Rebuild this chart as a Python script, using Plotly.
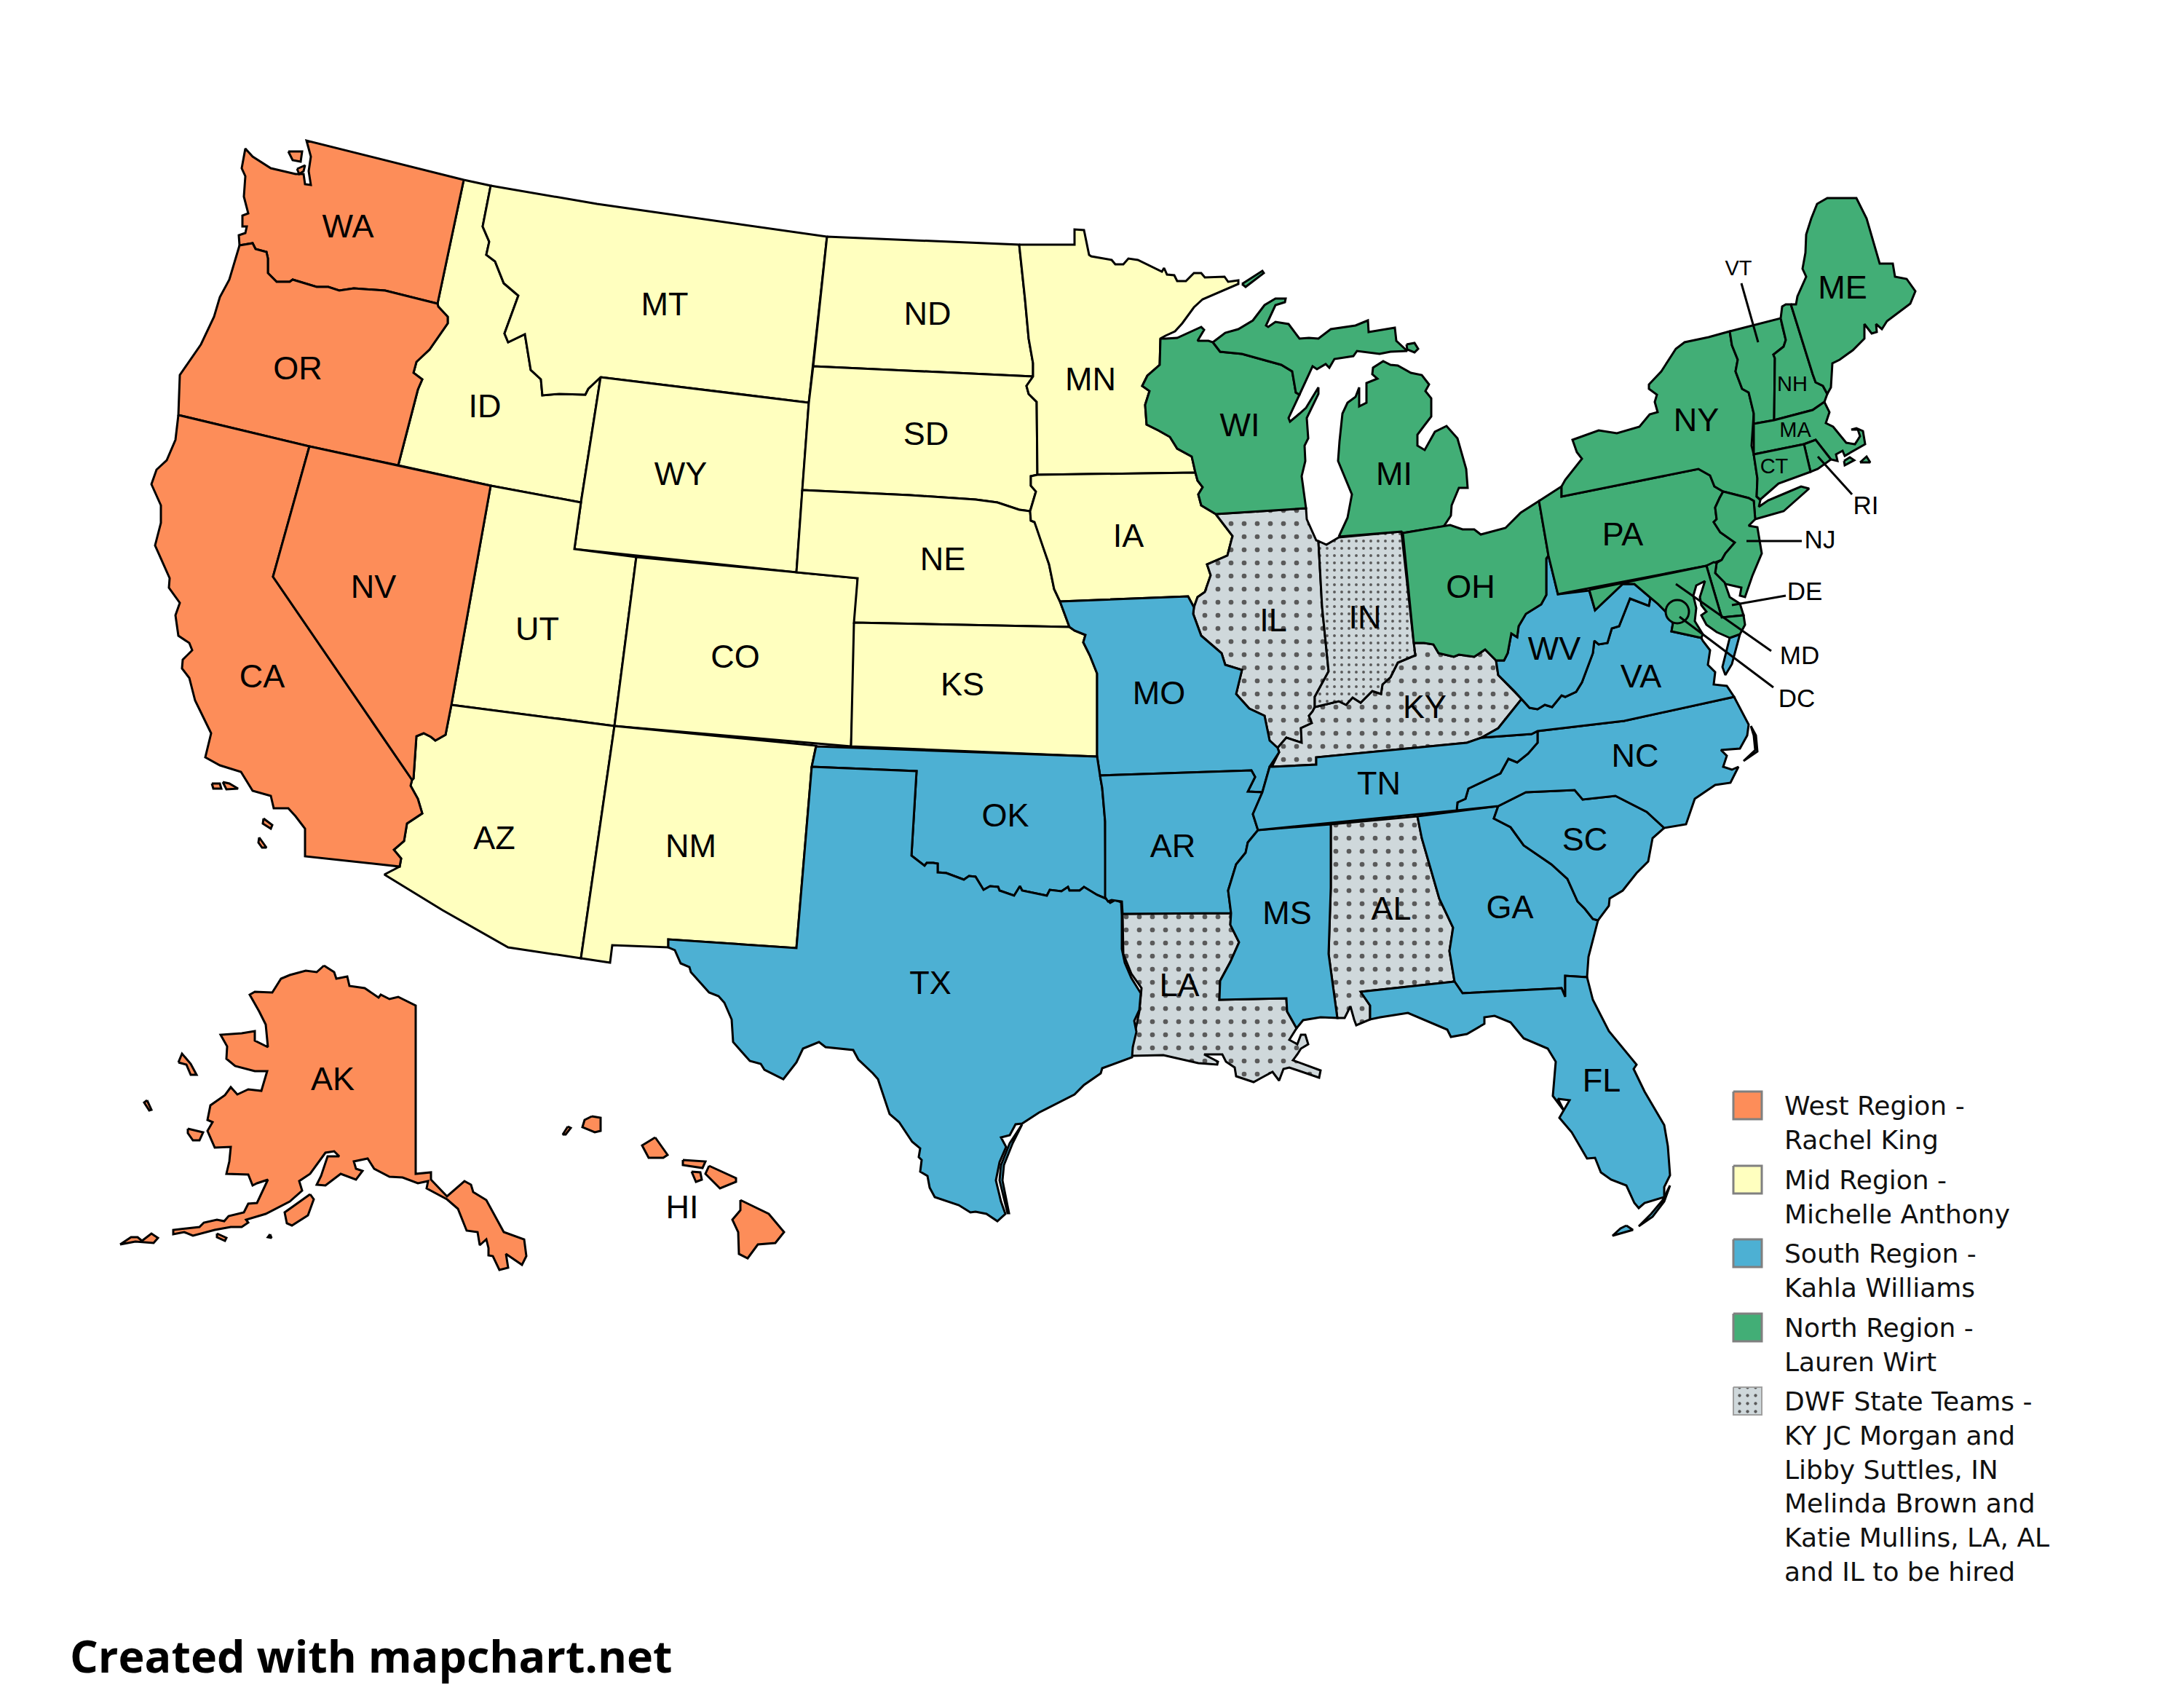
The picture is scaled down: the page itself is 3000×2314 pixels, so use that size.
import plotly.graph_objects as go

# state outlines, in picture pixels
WA = [(637,247),(421,193),(427,215),(424,235),(427,254),(419,253),(417,239),(406,239),(372,231),(347,215),(337,204),(332,231),(337,242),(335,270),(341,293),(333,296),(333,311),(339,311),(337,320),(328,323),(329,337),(347,334),(351,342),(366,346),(368,355),(368,375),(380,387),(398,387),(402,384),(435,394),(451,394),(466,399),(486,396),(529,399),(601,417)]
WA_ISLE1 = [(396,208),(415,208),(413,222),(402,220)]
WA_ISLE2 = [(408,232),(419,227),(417,235),(411,239)]
OR = [(329,337),(315,384),(302,408),(294,435),(276,473),(247,515),(245,570),(425,613),(547,639),(574,535),(580,521),(568,512),(572,497),(590,480),(615,444),(615,435),(602,421),(601,417),(529,399),(486,396),(466,399),(451,394),(435,394),(402,384),(398,387),(380,387),(368,375),(368,355),(366,346),(351,342),(347,334)]
CA = [(245,570),(425,613),(375,792),(566,1071),(564,1079),(574,1097),(580,1117),(559,1131),(555,1155),(541,1167),(551,1179),(549,1190),(419,1176),(419,1138),(406,1121),(396,1110),(376,1110),(372,1093),(347,1086),(331,1060),(302,1051),(282,1040),(290,1007),(268,962),(260,931),(250,918),(251,906),(264,893),(260,883),(245,873),(241,845),(247,828),(232,807),(233,794),(213,749),(221,718),(221,694),(208,665),(215,645),(229,632),(241,604)]
CA_ISLE1 = [(291,1076),(302,1076),(304,1083),(293,1083)]
CA_ISLE2 = [(306,1074),(315,1076),(327,1083),(311,1084)]
CA_ISLE3 = [(362,1124),(374,1133),(372,1138),(361,1131)]
CA_ISLE4 = [(356,1150),(366,1164),(360,1164),(355,1157)]
NV = [(425,613),(674,667),(620,968),(612,1009),(598,1017),(592,1012),(582,1007),(572,1011),(568,1069),(566,1071),(375,792)]
AK = [(445,1326),(459,1335),(462,1344),(477,1341),(480,1354),(501,1357),(520,1370),(523,1366),(535,1372),(547,1369),(571,1381),(571,1612),(592,1610),(592,1620),(614,1643),(629,1630),(638,1622),(647,1627),(650,1637),(668,1648),(692,1692),(720,1702),(723,1725),(717,1737),(695,1722),(698,1741),(686,1744),(677,1725),(671,1724),(671,1714),(668,1702),(659,1710),(656,1692),(641,1690),(629,1660),(614,1647),(586,1632),(588,1622),(574,1625),(553,1617),(535,1616),(514,1605),(505,1591),(486,1595),(489,1605),(498,1608),(489,1620),(468,1612),(447,1628),(435,1627),(441,1615),(450,1588),(466,1588),(459,1581),(447,1583),(426,1612),(411,1622),(415,1635),(398,1650),(365,1667),(338,1675),(341,1679),(332,1685),(317,1685),(295,1689),(265,1697),(253,1692),(238,1695),(238,1689),(274,1685),(280,1679),(298,1675),(308,1677),(314,1670),(335,1665),(341,1653),(353,1652),(368,1620),(353,1625),(347,1628),(341,1613),(311,1612),(315,1595),(317,1575),(295,1576),(285,1553),(292,1541),(285,1538),(289,1518),(309,1504),(317,1493),(326,1503),(341,1496),(359,1498),(367,1471),(350,1471),(323,1464),(311,1454),(312,1437),(303,1421),(332,1419),(350,1416),(350,1429),(368,1438),(365,1407),(356,1389),(343,1366),(350,1362),(374,1363),(386,1344),(398,1339),(420,1333),(435,1335)]
AK_ISLE1 = [(245,1459),(250,1447),(262,1461),(270,1476),(262,1476),(256,1462)]
AK_ISLE2 = [(202,1511),(208,1524),(205,1525),(198,1514)]
AK_ISLE3 = [(258,1550),(279,1555),(274,1566),(265,1566),(258,1556)]
AK_ISLE4 = [(426,1640),(431,1647),(423,1669),(401,1683),(394,1680),(391,1665)]
AK_ISLE5 = [(165,1709),(180,1699),(189,1699),(195,1704),(208,1694),(217,1700),(211,1707),(186,1705)]
AK_ISLE6 = [(298,1694),(311,1700),(309,1704),(298,1699)]
AK_ISLE7 = [(371,1695),(373,1700),(368,1699)]
HI_1 = [(813,1533),(825,1535),(825,1553),(817,1555),(800,1548),(803,1538)]
HI_2 = [(780,1547),(784,1549),(777,1558),(773,1558)]
HI_3 = [(900,1562),(917,1586),(911,1590),(891,1590),(882,1573)]
HI_4 = [(938,1593),(969,1595),(965,1604),(938,1600)]
HI_5 = [(950,1609),(962,1610),(964,1620),(956,1623)]
HI_6 = [(974,1601),(1011,1618),(1011,1623),(989,1632),(969,1612)]
HI_7 = [(1017,1648),(1056,1667),(1077,1692),(1065,1707),(1041,1709),(1027,1728),(1015,1722),(1014,1692),(1006,1675),(1017,1662)]

ID = [(637,247),(674,255),(663,311),(672,332),(668,350),(680,359),(692,389),(712,406),(693,458),(698,470),(721,459),(729,508),(743,521),(745,543),(768,541),(804,542),(808,534),(825,518),(798,690),(674,667),(547,639),(574,535),(580,521),(568,512),(572,497),(590,480),(615,444),(615,435),(602,421),(601,417)]
MT = [(674,255),(820,280),(1136,325),(1117,503),(1111,553),(825,518),(808,534),(804,542),(768,541),(745,543),(743,521),(729,508),(721,459),(698,470),(693,458),(712,406),(692,389),(680,359),(668,350),(672,332),(663,311)]
WY = [(825,518),(1111,553),(1094,786),(789,754),(798,690)]
UT = [(674,667),(798,690),(789,754),(874,765),(844,997),(620,968)]
AZ = [(620,968),(844,997),(798,1316),(698,1301),(608,1250),(528,1201),(549,1190),(551,1179),(541,1167),(555,1155),(559,1131),(580,1117),(574,1097),(564,1079),(566,1071),(568,1069),(572,1011),(582,1007),(592,1012),(598,1017),(612,1009)]
CO = [(874,765),(1178,794),(1169,1025),(844,997)]
NM = [(844,997),(1121,1024),(1115,1053),(1094,1302),(918,1290),(918,1301),(841,1298),(838,1322),(798,1316)]
ND = [(1136,325),(1400,336),(1408,411),(1413,465),(1419,499),(1419,517),(1117,503)]
SD = [(1117,503),(1419,517),(1410,530),(1413,541),(1424,552),(1425,652),(1416,654),(1416,667),(1423,675),(1415,702),(1400,700),(1370,690),(1340,686),(1250,680),(1102,673),(1111,553)]
NE = [(1102,673),(1250,680),(1340,686),(1370,690),(1400,700),(1415,702),(1416,715),(1421,717),(1423,721),(1433,752),(1441,775),(1448,809),(1456,826),(1469,861),(1173,855),(1178,794),(1094,786)]
KS = [(1173,855),(1469,861),(1476,866),(1491,872),(1488,882),(1497,900),(1507,925),(1507,1039),(1169,1025)]
MN = [(1400,336),(1476,336),(1476,315),(1489,316),(1496,350),(1499,352),(1527,357),(1532,363),(1543,363),(1550,355),(1563,357),(1596,373),(1599,368),(1603,377),(1613,378),(1617,386),(1629,386),(1640,375),(1650,375),(1655,381),(1682,380),(1687,387),(1701,385),(1701,390),(1652,411),(1640,422),(1624,444),(1614,455),(1601,461),(1594,465),(1593,501),(1576,516),(1569,530),(1579,537),(1573,556),(1575,583),(1591,591),(1607,600),(1617,616),(1637,627),(1642,649),(1425,652),(1424,552),(1413,541),(1410,530),(1419,517),(1419,499),(1413,465),(1408,411)]
IA = [(1425,652),(1642,649),(1645,660),(1652,669),(1646,679),(1650,694),(1670,706),(1693,736),(1686,763),(1658,775),(1663,790),(1655,813),(1645,820),(1640,834),(1632,819),(1456,826),(1448,809),(1441,775),(1433,752),(1423,721),(1421,717),(1416,715),(1415,702),(1423,675),(1416,667),(1416,654)]

MO = [(1456,826),(1632,819),(1640,834),(1639,843),(1650,873),(1678,897),(1683,913),(1706,920),(1698,953),(1716,973),(1737,983),(1744,1017),(1755,1027),(1757,1033),(1744,1053),(1734,1088),(1714,1087),(1724,1067),(1719,1058),(1511,1065),(1507,1039),(1507,925),(1497,900),(1488,882),(1491,872),(1476,866),(1469,861)]
OK = [(1121,1025),(1507,1039),(1511,1065),(1514,1082),(1518,1128),(1519,1234),(1507,1229),(1489,1218),(1483,1223),(1469,1223),(1467,1218),(1458,1224),(1442,1222),(1438,1230),(1404,1223),(1401,1217),(1393,1230),(1373,1223),(1371,1218),(1360,1217),(1351,1222),(1340,1204),(1331,1203),(1324,1208),(1300,1199),(1288,1198),(1288,1186),(1282,1185),(1273,1185),(1270,1189),(1252,1175),(1259,1059),(1115,1053)]
TX = [(1115,1053),(1259,1059),(1252,1175),(1270,1189),(1273,1185),(1282,1185),(1288,1186),(1288,1198),(1300,1199),(1324,1208),(1331,1203),(1340,1204),(1351,1222),(1360,1217),(1371,1218),(1373,1223),(1393,1230),(1401,1217),(1404,1223),(1438,1230),(1442,1222),(1458,1224),(1467,1218),(1469,1223),(1483,1223),(1489,1218),(1507,1229),(1519,1234),(1525,1240),(1532,1236),(1540,1239),(1541,1257),(1541,1303),(1545,1322),(1554,1343),(1567,1364),(1565,1387),(1558,1402),(1561,1417),(1556,1438),(1555,1452),(1514,1467),(1512,1474),(1489,1490),(1476,1503),(1427,1528),(1404,1543),(1395,1544),(1387,1559),(1375,1562),(1382,1575),(1373,1596),(1368,1621),(1375,1650),(1381,1667),(1370,1677),(1355,1667),(1340,1664),(1333,1665),(1317,1655),(1284,1644),(1277,1631),(1274,1615),(1264,1609),(1266,1593),(1262,1589),(1264,1577),(1253,1568),(1235,1541),(1222,1530),(1206,1482),(1199,1474),(1179,1455),(1172,1442),(1134,1438),(1125,1431),(1103,1440),(1094,1459),(1076,1482),(1050,1469),(1045,1461),(1030,1457),(1007,1431),(1005,1400),(995,1377),(987,1368),(974,1363),(949,1335),(947,1328),(935,1323),(927,1305),(918,1301),(918,1290),(1094,1302)]
TX_ISLE = [(1404,1544),(1387,1570),(1375,1600),(1373,1621),(1384,1666),(1386,1666),(1377,1621),(1379,1600),(1391,1570)]
AR = [(1511,1065),(1719,1058),(1724,1067),(1714,1087),(1734,1088),(1721,1118),(1728,1140),(1714,1157),(1711,1171),(1698,1187),(1687,1223),(1691,1254),(1542,1255),(1541,1238),(1527,1236),(1522,1238),(1518,1232),(1518,1128),(1514,1082)]
LA = [(1542,1255),(1691,1254),(1690,1270),(1702,1294),(1690,1321),(1676,1347),(1675,1373),(1767,1371),(1768,1389),(1781,1412),(1771,1428),(1782,1434),(1787,1421),(1793,1421),(1797,1434),(1787,1440),(1782,1448),(1776,1456),(1814,1470),(1812,1480),(1771,1466),(1763,1468),(1757,1484),(1748,1472),(1733,1480),(1722,1486),(1698,1478),(1696,1466),(1684,1458),(1679,1448),(1654,1448),(1673,1458),(1672,1462),(1646,1460),(1598,1449),(1554,1450),(1557,1428),(1565,1389),(1568,1357),(1554,1337),(1543,1310)]
MS = [(1728,1140),(1828,1132),(1828,1219),(1825,1310),(1837,1398),(1814,1397),(1790,1401),(1781,1412),(1768,1389),(1767,1371),(1675,1373),(1676,1347),(1690,1321),(1702,1294),(1690,1270),(1691,1254),(1687,1223),(1698,1187),(1711,1171),(1714,1157)]
AL = [(1828,1132),(1947,1121),(1953,1151),(1977,1234),(1996,1274),(1991,1306),(1998,1348),(1869,1362),(1882,1381),(1882,1400),(1863,1408),(1860,1400),(1855,1382),(1847,1398),(1837,1398),(1825,1310),(1828,1219)]
GA = [(1947,1121),(2058,1107),(2052,1124),(2075,1136),(2093,1161),(2131,1187),(2153,1207),(2167,1238),(2177,1248),(2188,1262),(2195,1264),(2182,1314),(2180,1342),(2150,1340),(2150,1369),(2145,1357),(2009,1364),(1998,1348),(1991,1306),(1996,1274),(1977,1234),(1953,1151)]
FL = [(1869,1362),(1998,1348),(2009,1364),(2145,1357),(2150,1369),(2150,1340),(2180,1342),(2188,1373),(2210,1416),(2248,1462),(2244,1468),(2259,1499),(2286,1545),(2291,1574),(2294,1614),(2286,1630),(2286,1644),(2259,1652),(2251,1659),(2245,1652),(2234,1628),(2213,1620),(2199,1610),(2191,1590),(2180,1591),(2159,1555),(2142,1535),(2156,1511),(2140,1509),(2148,1525),(2133,1505),(2137,1458),(2126,1440),(2093,1426),(2075,1404),(2053,1395),(2039,1397),(2039,1406),(2015,1420),(1993,1424),(1988,1414),(1934,1391),(1896,1397),(1882,1400),(1882,1381)]
FL_KEYS1 = [(2294,1628),(2286,1650),(2270,1671),(2251,1684),(2268,1667),(2284,1648)]
FL_KEYS2 = [(2234,1683),(2243,1689),(2215,1697),(2226,1687)]
SC = [(2058,1107),(2096,1088),(2163,1085),(2174,1098),(2219,1093),(2262,1115),(2286,1137),(2270,1151),(2264,1183),(2248,1199),(2229,1223),(2211,1234),(2210,1244),(2195,1264),(2188,1262),(2177,1248),(2167,1238),(2153,1207),(2131,1187),(2093,1161),(2075,1136),(2052,1124)]
NC = [(2001,1113),(2002,1102),(2013,1097),(2017,1083),(2061,1062),(2072,1042),(2084,1047),(2099,1035),(2112,1020),(2112,1004),(2231,990),(2382,957),(2402,995),(2400,1010),(2390,1028),(2364,1030),(2372,1038),(2367,1053),(2379,1057),(2388,1053),(2377,1075),(2356,1078),(2328,1097),(2316,1132),(2286,1137),(2262,1115),(2219,1093),(2174,1098),(2163,1085),(2096,1088),(2058,1107)]
NC_BANKS = [(2405,997),(2412,1010),(2414,1032),(2395,1045),(2411,1030),(2409,1010)]
TN = [(1747,1053),(1808,1050),(1808,1040),(2015,1020),(2035,1013),(2104,1008),(2112,1004),(2112,1020),(2099,1035),(2084,1047),(2072,1042),(2061,1062),(2017,1083),(2013,1097),(2002,1102),(2001,1113),(1728,1140),(1721,1118),(1734,1088),(1744,1053)]
KY = [(1806,971),(1839,963),(1849,968),(1858,958),(1869,965),(1885,949),(1897,953),(1899,940),(1910,930),(1920,910),(1944,900),(1942,883),(1956,883),(1969,885),(1976,897),(1997,902),(2004,899),(2025,902),(2040,892),(2055,907),(2058,927),(2081,950),(2090,960),(2058,1000),(2035,1013),(2015,1020),(1808,1040),(1808,1050),(1747,1053),(1757,1033),(1755,1027),(1767,1013),(1788,1020),(1787,1000),(1802,993),(1798,983),(1803,977)]
IL = [(1670,706),(1794,698),(1795,713),(1808,742),(1811,743),(1816,833),(1825,922),(1806,957),(1806,971),(1803,977),(1798,983),(1802,993),(1787,1000),(1788,1020),(1767,1013),(1755,1027),(1744,1017),(1737,983),(1716,973),(1698,953),(1706,920),(1683,913),(1678,897),(1650,873),(1639,843),(1640,834),(1645,820),(1655,813),(1663,790),(1658,775),(1686,763),(1693,736)]
IN = [(1811,743),(1822,748),(1839,738),(1925,730),(1942,883),(1944,900),(1920,910),(1910,930),(1899,940),(1897,953),(1885,949),(1869,965),(1858,958),(1849,968),(1839,963),(1806,971),(1806,957),(1825,922),(1816,833)]
VA = [(2265,832),(2267,820),(2277,829),(2288,840),(2298,856),(2296,867),(2337,876),(2339,880),(2349,893),(2346,913),(2356,923),(2354,940),(2372,942),(2382,957),(2231,990),(2112,1004),(2104,1008),(2035,1013),(2058,1000),(2090,960),(2101,972),(2112,974),(2122,968),(2132,971),(2145,955),(2150,957),(2165,950),(2173,937),(2188,897),(2190,880),(2196,885),(2208,883),(2214,863),(2224,860),(2239,822)]
VA_SHORE = [(2390,871),(2376,876),(2366,916),(2370,927),(2379,912)]
WV = [(2055,907),(2058,927),(2081,950),(2090,960),(2101,972),(2112,974),(2122,968),(2132,971),(2145,955),(2150,957),(2165,950),(2173,937),(2188,897),(2190,880),(2196,885),(2208,883),(2214,863),(2224,860),(2239,822),(2265,832),(2267,820),(2245,802),(2229,802),(2210,820),(2191,838),(2183,811),(2140,816),(2127,763),(2124,767),(2124,817),(2117,830),(2096,843),(2086,860),(2084,875),(2076,870),(2071,897),(2066,907)]

WI = [(1594,465),(1601,465),(1617,464),(1650,449),(1654,453),(1645,468),(1660,468),(1666,470),(1676,483),(1706,486),(1760,501),(1775,510),(1780,539),(1785,542),(1770,574),(1772,579),(1785,568),(1794,560),(1811,532),(1811,541),(1795,574),(1797,602),(1792,612),(1793,633),(1788,654),(1794,698),(1670,706),(1650,694),(1646,679),(1652,669),(1645,660),(1642,649),(1637,627),(1617,616),(1607,600),(1591,591),(1575,583),(1573,556),(1579,537),(1569,530),(1576,516),(1593,501)]
MI_UPPER = [(1666,470),(1683,457),(1701,452),(1721,440),(1737,419),(1752,410),(1766,410),(1765,415),(1752,419),(1739,447),(1742,449),(1752,442),(1770,445),(1785,465),(1798,464),(1811,465),(1828,452),(1862,447),(1879,440),(1880,456),(1916,450),(1918,468),(1933,482),(1910,483),(1895,486),(1864,482),(1859,489),(1833,493),(1826,505),(1821,500),(1809,507),(1803,503),(1785,542),(1780,539),(1775,510),(1760,501),(1706,486),(1676,483)]
MI_LOWER = [(1839,737),(1851,711),(1857,679),(1838,633),(1840,606),(1844,568),(1851,553),(1862,545),(1867,532),(1867,558),(1877,553),(1877,526),(1892,520),(1885,514),(1886,505),(1900,496),(1910,501),(1920,502),(1938,512),(1953,515),(1963,528),(1958,537),(1966,547),(1966,572),(1956,585),(1947,597),(1947,612),(1957,618),(1971,593),(1987,585),(2002,602),(2014,644),(2016,670),(2004,670),(1994,694),(1993,708),(1983,723),(1927,732),(1925,730)]
MI_ISLE1 = [(1932,473),(1943,471),(1948,479),(1943,484),(1933,480)]
MI_ISLE2 = [(1706,390),(1734,372),(1736,375),(1711,394)]
OH = [(1927,732),(1983,723),(1992,721),(2009,727),(2025,727),(2034,734),(2068,725),(2089,704),(2114,688),(2127,763),(2124,767),(2124,817),(2117,830),(2096,843),(2086,860),(2084,875),(2076,870),(2071,897),(2066,907),(2055,907),(2040,892),(2025,902),(2004,899),(1997,902),(1976,897),(1969,885),(1956,883),(1942,883)]
PA = [(2114,688),(2145,668),(2145,682),(2333,644),(2349,653),(2355,668),(2367,675),(2362,684),(2356,697),(2358,713),(2354,717),(2363,731),(2383,745),(2370,760),(2365,769),(2344,777),(2140,816),(2127,763)]
NY = [(2145,668),(2150,659),(2173,630),(2166,621),(2160,604),(2196,591),(2221,595),(2252,586),(2266,569),(2277,566),(2273,552),(2276,542),(2265,534),(2265,528),(2282,510),(2302,479),(2314,470),(2347,463),(2376,455),(2379,474),(2387,494),(2384,510),(2393,534),(2402,539),(2409,568),(2406,612),(2409,624),(2414,657),(2413,682),(2418,687),(2416,696),(2429,687),(2453,677),(2474,668),(2485,671),(2450,702),(2411,713),(2409,688),(2402,684),(2367,675),(2355,668),(2349,653),(2333,644),(2145,682)]
VT = [(2376,455),(2446,437),(2448,447),(2453,467),(2450,476),(2436,487),(2438,492),(2437,577),(2409,582),(2409,568),(2402,539),(2393,534),(2384,510),(2387,494),(2379,474)]
NH = [(2446,437),(2448,421),(2453,418),(2460,418),(2490,514),(2494,525),(2504,530),(2510,541),(2506,552),(2490,563),(2437,577),(2438,492),(2436,487),(2450,476),(2453,467),(2448,447)]
ME = [(2460,418),(2467,418),(2469,407),(2481,380),(2476,369),(2480,347),(2481,322),(2488,300),(2496,280),(2510,272),(2550,272),(2564,300),(2582,362),(2600,362),(2603,380),(2619,383),(2631,400),(2624,417),(2592,441),(2585,452),(2577,445),(2578,456),(2571,458),(2561,445),(2561,465),(2545,481),(2527,494),(2517,499),(2515,532),(2510,541),(2504,530),(2494,525),(2490,514)]
MA = [(2409,582),(2437,577),(2490,563),(2506,552),(2513,566),(2508,581),(2518,586),(2536,608),(2548,610),(2555,599),(2552,590),(2543,590),(2550,588),(2559,592),(2562,610),(2534,626),(2531,619),(2522,624),(2524,633),(2515,631),(2494,604),(2478,610),(2409,624)]
MA_ISLE1 = [(2533,633),(2541,628),(2547,632),(2534,639)]
MA_ISLE2 = [(2555,635),(2564,627),(2569,635)]
RI = [(2478,610),(2494,604),(2515,631),(2497,644),(2487,648)]
CT = [(2409,624),(2478,610),(2487,648),(2443,664),(2418,686),(2413,682),(2414,657)]
NJ = [(2367,675),(2402,684),(2409,688),(2411,713),(2402,722),(2414,724),(2420,760),(2407,791),(2397,820),(2390,818),(2392,807),(2370,802),(2356,787),(2358,773),(2365,769),(2370,760),(2383,745),(2363,731),(2354,717),(2358,713),(2356,697),(2362,684)]
DE = [(2344,777),(2354,772),(2358,773),(2356,787),(2369,800),(2376,820),(2390,829),(2395,845),(2365,848)]
MD = [(2183,810),(2344,777),(2365,848),(2395,845),(2397,858),(2390,871),(2376,876),(2358,868),(2344,858),(2337,845),(2344,840),(2337,831),(2335,820),(2342,798),(2330,804),(2326,818),(2330,835),(2328,853),(2339,871),(2337,876),(2296,867),(2298,856),(2288,840),(2277,829),(2266,820),(2245,802),(2229,802),(2210,820),(2191,838)]

west_states = [[WA, WA_ISLE1, WA_ISLE2], [OR], [CA, CA_ISLE1, CA_ISLE2, CA_ISLE3, CA_ISLE4], [NV],
               [AK, AK_ISLE1, AK_ISLE2, AK_ISLE3, AK_ISLE4, AK_ISLE5, AK_ISLE6, AK_ISLE7],
               [HI_1, HI_2, HI_3, HI_4, HI_5, HI_6, HI_7]]
mid_states = [[ID], [MT], [WY], [UT], [AZ], [CO], [NM], [ND], [SD], [NE], [KS], [MN], [IA]]
south_states = [[MO], [OK], [TX, TX_ISLE], [AR], [MS], [GA], [FL, FL_KEYS1, FL_KEYS2], [SC],
                [NC, NC_BANKS], [TN], [VA, VA_SHORE], [WV]]
north_states = [[WI], [MI_UPPER, MI_LOWER, MI_ISLE1, MI_ISLE2], [OH], [PA], [NY], [VT], [NH], [ME],
                [MA, MA_ISLE1, MA_ISLE2], [RI], [CT], [NJ], [DE], [MD]]
team_states = [[IL], [KY], [LA], [AL]]

label_text = ["WA", "OR", "CA", "NV", "ID", "MT", "WY", "UT", "AZ", "CO", "NM", "ND", "SD", "NE", "KS", "MN", "IA",
              "MO", "OK", "TX", "AR", "LA", "MS", "AL", "TN", "KY", "IL", "IN", "WI", "MI", "OH", "WV", "VA", "NC",
              "SC", "GA", "FL", "PA", "NY", "ME", "AK", "HI"]
label_x = [478, 409, 360, 513, 666, 913, 935, 738, 679, 1010, 949, 1274, 1272, 1295, 1322, 1498, 1550,
           1592, 1381, 1278, 1611, 1620, 1768, 1911, 1894, 1957, 1749, 1875, 1703, 1915, 2020, 2135, 2254, 2246,
           2177, 2074, 2200, 2229, 2330, 2531, 457, 937]
label_y = [315, 510, 933, 810, 562, 422, 655, 868, 1155, 906, 1166, 435, 600, 772, 944, 525, 740,
           956, 1124, 1354, 1166, 1357, 1258, 1252, 1080, 975, 856, 852, 588, 655, 810, 895, 933, 1042,
           1157, 1250, 1488, 738, 581, 399, 1486, 1662]
small_text = ["VT", "NH", "MA", "CT"]
small_x = [2388, 2462, 2466, 2437]
small_y = [371, 530, 593, 643]
side_text = ["RI", "NJ", "DE", "MD", "DC"]
side_x = [2563, 2500, 2479, 2472, 2468]
side_y = [697, 744, 815, 903, 962]

leader_lines = [[(2392, 389), (2415, 470)], [(2497, 627), (2544, 679)], [(2399, 743), (2475, 743)],
                [(2379, 831), (2453, 818)], [(2302, 802), (2433, 894)], [(2307, 847), (2436, 944)]]
dc_x = [2304]
dc_y = [840]

legend_names = ["West Region -<br>Rachel King", "Mid Region -<br>Michelle Anthony", "South Region -<br>Kahla Williams",
                "North Region -<br>Lauren Wirt",
                "DWF State Teams -<br>KY JC Morgan and<br>Libby Suttles, IN<br>Melinda Brown and<br>Katie Mullins, LA, AL<br>and IL to be hired"]
legend_top = [1499, 1601, 1702, 1804, 1905]
credit = "Created with mapchart.net"

ORANGE = "#FD8D59"
YELLOW = "#FFFFBF"
BLUE = "#4DB0D3"
GREEN = "#42AE76"
DOT_BG = "#CFD8DB"
DOT_FG = "#5A5A5A"


def ring_coords(parts):
    xs, ys = [], []
    for part in parts:
        xs += [p[0] for p in part] + [part[0][0], None]
        ys += [p[1] for p in part] + [part[0][1], None]
    return xs, ys


def add_state(fig, parts, color=None, pattern=None, line_color="black", line_width=3):
    xs, ys = ring_coords(parts)
    opts = dict(fillpattern=pattern) if pattern else dict(fillcolor=color)
    fig.add_trace(go.Scatter(x=xs, y=ys, mode="lines", fill="toself", hoverinfo="skip",
                             line=dict(color=line_color, width=line_width), **opts))


big_dots = dict(shape=".", bgcolor=DOT_BG, fgcolor=DOT_FG, fgopacity=1, size=18, solidity=0.11)
fine_dots = dict(shape=".", bgcolor=DOT_BG, fgcolor=DOT_FG, fgopacity=1, size=10, solidity=0.12)

fig = go.Figure()
for parts in mid_states:
    add_state(fig, parts, YELLOW)
for parts in west_states:
    add_state(fig, parts, ORANGE)
for parts in team_states:
    add_state(fig, parts, pattern=big_dots)
add_state(fig, [IN], pattern=fine_dots)
for parts in south_states:
    add_state(fig, parts, BLUE)
for parts in north_states:
    add_state(fig, parts, GREEN)

fig.add_trace(go.Scatter(x=dc_x, y=dc_y, mode="markers", hoverinfo="skip",
                         marker=dict(size=32, color=GREEN, line=dict(color="black", width=3))))

for seg in leader_lines:
    fig.add_trace(go.Scatter(x=[p[0] for p in seg], y=[p[1] for p in seg], mode="lines", hoverinfo="skip",
                             line=dict(color="black", width=3)))

for xs, ys, txt, size in [(label_x, label_y, label_text, 45), (small_x, small_y, small_text, 29), (side_x, side_y, side_text, 35)]:
    fig.add_trace(go.Scatter(x=xs, y=ys, text=txt, mode="text", hoverinfo="skip", textposition="middle center",
                             textfont=dict(family="Liberation Sans", size=size, color="black")))

# legend swatches and names
swatch_colors = [ORANGE, YELLOW, BLUE, GREEN]
for i, top in enumerate(legend_top):
    box = [(2381, top), (2420, top), (2420, top + 38), (2381, top + 38)]
    if i < 4:
        add_state(fig, [box], swatch_colors[i], line_color="#808080", line_width=3)
    else:
        add_state(fig, [box], pattern=dict(fine_dots, size=11), line_color="#A0A0A0", line_width=2)
    fig.add_annotation(x=2449, y=top - 3, text=legend_names[i], showarrow=False, xanchor="left", yanchor="top",
                       align="left", font=dict(family="DejaVu Sans", size=36, color="#111111"))

fig.add_annotation(x=94, y=2273, text=credit, showarrow=False, xanchor="left", yanchor="middle",
                   font=dict(family="Open Sans", size=61, color="black", weight="bold"))

# the page keeps its 8px body margin, so the plot area starts at 8,8
fig.update_layout(width=2992, height=2306, margin=dict(l=0, r=0, t=0, b=0), showlegend=False,
                  paper_bgcolor="white", plot_bgcolor="white",
                  xaxis=dict(range=[8, 3000], visible=False, fixedrange=True),
                  yaxis=dict(range=[2314, 8], visible=False, fixedrange=True))
fig.write_html("out.html")
